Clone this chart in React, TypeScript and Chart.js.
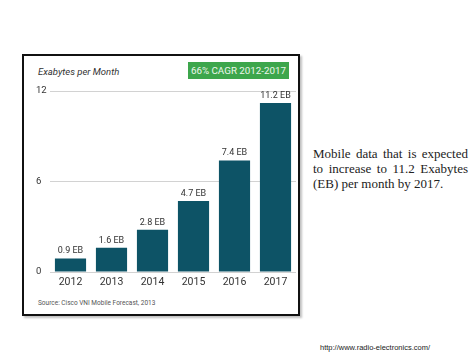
import React, { useEffect, useRef } from "react";
import { Chart, registerables } from "chart.js";

Chart.register(...registerables);

const categories = ["2012", "2013", "2014", "2015", "2016", "2017"];
const values = [0.9, 1.6, 2.8, 4.7, 7.4, 11.2];
const valueLabels = ["0.9 EB", "1.6 EB", "2.8 EB", "4.7 EB", "7.4 EB", "11.2 EB"];
const yTicks = [0, 6, 12];

const FONT = "Roboto, 'Liberation Sans', sans-serif";

const dataLabelPlugin = {
  id: "dataLabels",
  afterDatasetsDraw(chart: any) {
    const ctx = chart.ctx;
    const meta = chart.getDatasetMeta(0);
    ctx.save();
    ctx.font = `9px ${FONT}`;
    ctx.fillStyle = "#333";
    ctx.textAlign = "center";
    ctx.textBaseline = "bottom";
    meta.data.forEach((bar: any, i: number) => {
      ctx.fillText(valueLabels[i], bar.x, bar.y - 3);
    });
    ctx.restore();
  },
};

export default function App() {
  const ref = useRef<HTMLCanvasElement>(null);
  useEffect(() => {
    if (!ref.current) return;
    const chart = new Chart(ref.current, {
      type: "bar",
      data: {
        labels: categories,
        datasets: [
          {
            data: values,
            backgroundColor: "#0d5366",
            borderWidth: 0,
            categoryPercentage: 1,
            barPercentage: 0.76,
          },
        ],
      },
      options: {
        responsive: false,
        animation: false,
        layout: { padding: { left: 12, right: 2, top: 11, bottom: 0 } },
        plugins: { legend: { display: false }, tooltip: { enabled: false } },
        scales: {
          x: {
            grid: { display: false, drawTicks: false },
            border: { display: false },
            ticks: { color: "#333", font: { family: FONT, size: 10.5 }, padding: 4 },
            afterFit: (s: any) => {
              s.height = 23;
            },
          },
          y: {
            min: 0,
            max: 12,
            afterBuildTicks: (s: any) => {
              s.ticks = yTicks.map((v) => ({ value: v }));
            },
            grid: { color: "#d2d2d2", drawTicks: false, lineWidth: 1 },
            border: { display: false },
            ticks: {
              color: "#333",
              font: { family: FONT, size: 9.5 },
              crossAlign: "far",
              padding: 0,
            },
            afterFit: (s: any) => {
              s.width = 14;
            },
          },
        },
      },
      plugins: [dataLabelPlugin],
    });
    return () => chart.destroy();
  }, []);

  return (
    <div
      style={{
        position: "fixed",
        left: 0,
        top: 0,
        width: 474,
        height: 355,
        background: "#fff",
        overflow: "hidden",
      }}
    >
      <div
        style={{
          position: "absolute",
          left: 22,
          top: 54,
          width: 274,
          height: 258,
          border: "2px solid #111",
          boxShadow: "2px 2px 2px rgba(0,0,0,0.25)",
          background: "#fff",
        }}
      />
      <div
        style={{
          position: "absolute",
          left: 38,
          top: 66,
          fontFamily: FONT,
          fontStyle: "italic",
          fontSize: 9.5,
          color: "#333",
          lineHeight: "12px",
          whiteSpace: "nowrap",
        }}
      >
        Exabytes per Month
      </div>
      <div
        style={{
          position: "absolute",
          left: 188,
          top: 62,
          width: 101,
          height: 17,
          background: "#3da64c",
          color: "#eef7ee",
          fontFamily: FONT,
          fontSize: 9.8,
          lineHeight: "17px",
          textAlign: "center",
          whiteSpace: "nowrap",
        }}
      >
        66% CAGR 2012-2017
      </div>
      <canvas
        ref={ref}
        width={274}
        height={215}
        style={{ position: "absolute", left: 24, top: 80, width: 274, height: 215 }}
      />
      <div
        style={{
          position: "absolute",
          left: 38,
          top: 299,
          fontFamily: FONT,
          fontSize: 6.5,
          color: "#555",
          lineHeight: "8px",
          whiteSpace: "nowrap",
        }}
      >
        Source: Cisco VNI Mobile Forecast, 2013
      </div>
      <div
        style={{
          position: "absolute",
          left: 313,
          top: 146,
          width: 155,
          fontFamily: "'Liberation Serif', 'DejaVu Serif', serif",
          fontSize: 13,
          lineHeight: "15px",
          color: "#222",
          textAlign: "justify",
        }}
      >
        Mobile data that is expected to increase to 11.2 Exabytes (EB) per month by 2017.
      </div>
      <div
        style={{
          position: "absolute",
          left: 320,
          top: 343,
          fontFamily: "'Liberation Sans', sans-serif",
          fontSize: 7.5,
          color: "#222",
          lineHeight: "10px",
          whiteSpace: "nowrap",
        }}
      >
        http://www.radio-electronics.com/
      </div>
    </div>
  );
}
